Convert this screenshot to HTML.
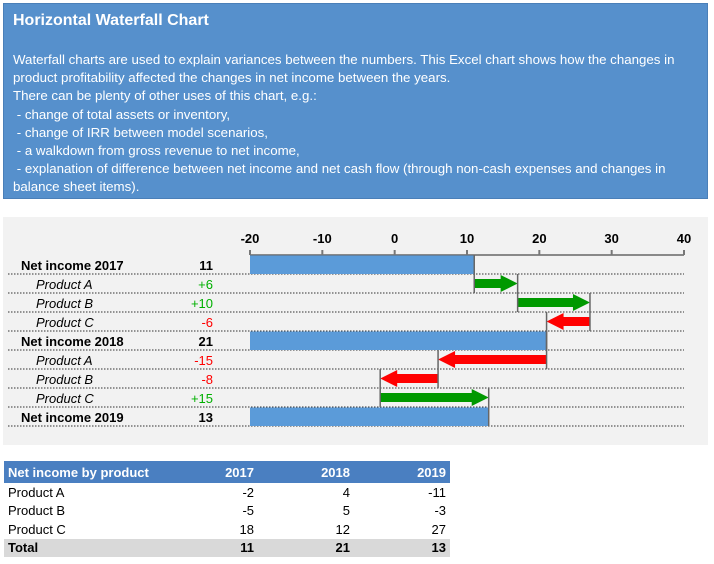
<!DOCTYPE html>
<html><head><meta charset="utf-8"><style>
body{margin:0;width:714px;height:564px;background:#fff;font-family:"Liberation Sans",sans-serif;position:relative;overflow:hidden}
#hdr{position:absolute;left:3px;top:3px;width:703px;height:194px;background:#5690cc;border:1px solid #4a7fb8;color:#fff;font-size:13.3px;line-height:18.2px}
#hdr h1{margin:0;position:absolute;left:9px;top:8px;font-size:16px;font-weight:bold}
#hdr p{margin:0;position:absolute;left:9px;top:47px;width:690px}
#panel{position:absolute;left:3px;top:217px;width:705px;height:228px;background:#f2f2f2}
table{position:absolute;left:4px;top:461px;border-collapse:collapse;font-size:13px}
td{padding:0 4px;height:18.5px}
</style></head><body>
<div id="hdr">
<h1>Horizontal Waterfall Chart</h1>
<p>Waterfall charts are used to explain variances between the numbers. This Excel chart shows how the changes in product profitability affected the changes in net income between the years.<br>There can be plenty of other uses of this chart, e.g.:<br>&nbsp;- change of total assets or inventory,<br>&nbsp;- change of IRR between model scenarios,<br>&nbsp;- a walkdown from gross revenue to net income,<br>&nbsp;- explanation of difference between net income and net cash flow (through non-cash expenses and changes in balance sheet items).</p>
</div>
<div id="panel"></div>
<svg id="chart" width="714" height="564" style="position:absolute;left:0;top:0"></svg>
<table>
<tr style="background:#4a7fc1;color:#fff;font-weight:bold;height:22px"><td style="width:150px;height:22px">Net income by product</td><td style="width:88px;text-align:right">2017</td><td style="width:88px;text-align:right">2018</td><td style="width:88px;text-align:right">2019</td></tr>
<tr><td>Product A</td><td align="right">-2</td><td align="right">4</td><td align="right">-11</td></tr>
<tr><td>Product B</td><td align="right">-5</td><td align="right">5</td><td align="right">-3</td></tr>
<tr><td>Product C</td><td align="right">18</td><td align="right">12</td><td align="right">27</td></tr>
<tr style="background:#d9d9d9;font-weight:bold"><td>Total</td><td align="right">11</td><td align="right">21</td><td align="right">13</td></tr>
</table>
<script>
const labels=["Net income 2017","Product A","Product B","Product C","Net income 2018","Product A","Product B","Product C","Net income 2019"];
const isTotal=[1,0,0,0,1,0,0,0,1];
const values=[11,6,10,-6,21,-15,-8,15,13];
const ticks=[-20,-10,0,10,20,30,40];
const NS="http://www.w3.org/2000/svg",svg=document.getElementById('chart');
const x=v=>250+(v+20)*(434/60);
const rowTop=i=>255+i*19;
function el(t,a){const e=document.createElementNS(NS,t);for(const k in a)e.setAttribute(k,a[k]);svg.appendChild(e);return e;}
function txt(s,a){const e=el('text',a);e.textContent=s;return e;}
// axis
const ax=el('line',{x1:x(-20),x2:x(40),y1:255,y2:255,stroke:'#666','stroke-width':1.5});

ticks.forEach(t=>{
 const l=el('line',{x1:x(t),x2:x(t),y1:250,y2:255,stroke:'#777','stroke-width':2});
 
 const tl=txt(t,{x:x(t),y:243,'text-anchor':'middle','font-size':13,'font-weight':'bold',fill:'#000'});
 
});
let cum=0;
values.forEach((v,i)=>{
 const y=rowTop(i);
 const dl=el('line',{x1:8,x2:684,y1:y+19,y2:y+19,stroke:'#333','stroke-dasharray':'1.5,1.5','stroke-width':1});
 
 const lb=txt(labels[i],{x:isTotal[i]?21:36,y:y+15,'font-size':13,'font-weight':isTotal[i]?'bold':'normal','font-style':isTotal[i]?'normal':'italic'});
 
 const vs=isTotal[i]?String(v):(v>0?'+'+v:String(v));
 const vt=txt(vs,{x:213,y:y+15,'text-anchor':'end','font-size':13,'font-weight':isTotal[i]?'bold':'normal',fill:isTotal[i]?'#000':(v>0?'#00b000':'#ff0000')});
 
 let start;
 if(isTotal[i]){
  start=v;cum=v;
  const b=el('rect',{x:x(-20),y:y+0.5,width:x(v)-x(-20),height:18.5,fill:'#5b9bd9'});
  
 } else {
  start=cum;const end=cum+v;cum=end;
  const x0=x(start),x1=x(end),d=v>0?1:-1,cy=y+9.5,head=Math.min(17,Math.abs(x1-x0));
  const hx=x1-d*head;
  const p=el('polygon',{points:`${x0},${cy-4.5} ${hx},${cy-4.5} ${hx},${cy-8.5} ${x1},${cy} ${hx},${cy+8.5} ${hx},${cy+4.5} ${x0},${cy+4.5}`,fill:v>0?'#009900':'#ff0000'});
  
 }
 if(i>0){
  const c=el('line',{x1:x(start),x2:x(start),y1:y-19,y2:y+19,stroke:'#666','stroke-width':1.5});
  
 }
});
</script>
</body></html>
